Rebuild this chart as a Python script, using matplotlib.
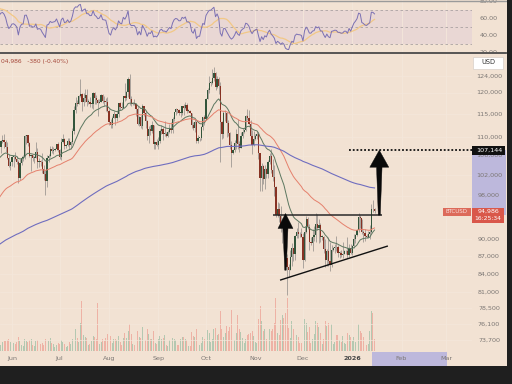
import numpy as np
import pandas as pd
import matplotlib
matplotlib.use("Agg")
import matplotlib.pyplot as plt
from matplotlib.patches import Rectangle, Polygon
from matplotlib.lines import Line2D
from matplotlib.transforms import IdentityTransform

# ---------------- data (BTCUSD daily, prices in thousands USD) ----------------
start_date = "2025-05-01"
first_open_k = 94.2

close_k = [
    # May 2025
    96.5, 96.9, 95.9, 94.3, 94.7, 96.8, 97.0, 103.2, 102.9, 104.6,
    104.1, 102.8, 104.2, 103.5, 103.7, 103.5, 103.2, 106.4, 105.6, 106.8,
    109.7, 111.7, 107.3, 107.8, 109.0, 109.4, 108.9, 107.8, 105.6, 103.9,
    104.6,
    # Jun
    105.7, 105.8, 105.4, 104.7, 101.5, 104.4, 105.6, 105.7, 110.2, 110.3,
    108.7, 105.9, 106.1, 105.5, 105.6, 106.8, 104.6, 104.9, 104.6, 103.3,
    102.2, 100.9, 105.6, 105.9, 107.3, 106.9, 107.1, 107.3, 108.4, 107.1,
    # Jul
    105.7, 108.8, 109.6, 108.0, 108.2, 109.2, 108.3, 108.9, 111.3, 115.9,
    117.5, 117.4, 119.1, 119.8, 117.7, 118.7, 119.4, 117.9, 117.9, 117.3,
    117.4, 120.0, 118.7, 118.3, 117.6, 117.9, 119.4, 118.0, 117.9, 117.8,
    115.8,
    # Aug
    113.3, 112.5, 114.2, 115.0, 114.1, 115.0, 117.5, 116.7, 116.5, 119.3,
    118.7, 120.2, 123.3, 118.4, 117.4, 117.5, 117.4, 116.3, 112.9, 114.3,
    112.4, 116.9, 115.4, 113.5, 110.1, 111.8, 111.3, 112.6, 108.4, 108.8,
    108.2,
    # Sep
    109.2, 111.2, 111.7, 110.7, 110.7, 110.2, 111.1, 112.0, 111.5, 113.9,
    115.5, 116.1, 115.9, 115.3, 115.4, 116.8, 116.5, 117.1, 115.7, 115.7,
    115.3, 112.7, 112.0, 113.3, 109.0, 109.7, 109.7, 112.1, 114.4, 114.0,
    # Oct
    118.6, 120.6, 122.3, 122.4, 123.5, 124.7, 121.4, 123.3, 121.7, 113.2,
    110.6, 115.2, 115.3, 113.0, 110.8, 108.2, 106.5, 107.2, 108.6, 110.6,
    108.5, 107.6, 110.1, 111.0, 111.6, 114.5, 114.1, 112.9, 110.1, 108.3,
    109.6,
    # Nov
    110.1, 110.6, 106.5, 101.5, 103.9, 101.3, 103.3, 102.3, 104.7, 106.0,
    103.1, 101.7, 99.7, 94.4, 95.5, 94.2, 92.2, 92.9, 91.5, 86.6,
    85.1, 84.7, 86.8, 88.3, 87.3, 90.5, 91.3, 90.9, 90.8, 90.4,
    # Dec
    86.3, 91.3, 93.5, 92.1, 89.4, 89.3, 90.4, 90.6, 92.7, 92.0,
    92.5, 90.3, 90.3, 88.2, 86.4, 87.8, 86.1, 85.5, 88.1, 88.3,
    88.6, 88.5, 87.6, 87.6, 87.2, 87.3, 87.8, 87.8, 87.1, 88.4,
    87.5,
    # Jan 2026
    88.7, 89.9, 90.6, 91.5, 93.9, 93.7, 91.3, 91.0, 90.5, 90.4,
    90.8, 91.2, 95.4, 95.37, 94.99,
]

high_k = [
    97.4, 97.9, 96.9, 96.0, 95.2, 97.0, 97.6, 103.9, 104.3, 104.9,
    105.0, 105.8, 104.9, 104.3, 104.2, 104.6, 103.7, 106.6, 107.1, 107.1,
    110.8, 112.0, 111.9, 109.5, 109.3, 110.4, 110.7, 109.3, 108.9, 106.3,
    104.9,
    105.9, 105.9, 106.8, 105.9, 105.0, 105.3, 106.0, 106.1, 110.5, 110.4,
    110.4, 108.8, 106.2, 106.2, 106.0, 108.9, 107.7, 105.6, 105.2, 106.5,
    104.0, 103.1, 106.1, 106.3, 108.0, 108.0, 107.8, 107.6, 108.5, 108.8,
    107.5, 109.8, 110.6, 109.8, 108.5, 109.8, 109.7, 109.2, 111.9, 116.8,
    118.9, 118.2, 119.5, 123.2, 119.9, 120.0, 120.8, 120.9, 118.6, 118.9,
    119.7, 120.2, 120.1, 119.5, 118.4, 118.5, 119.8, 119.8, 119.3, 118.8,
    118.9,
    116.1, 114.0, 114.7, 115.7, 115.1, 115.7, 117.6, 117.7, 117.9, 119.3,
    122.3, 120.3, 123.7, 124.5, 119.2, 117.9, 118.6, 117.6, 116.8, 114.6,
    114.8, 117.4, 117.0, 115.8, 113.6, 112.4, 112.6, 113.5, 112.7, 108.9,
    109.5,
    109.9, 111.8, 112.6, 112.2, 113.4, 111.0, 111.4, 112.8, 113.2, 114.3,
    115.6, 116.5, 116.3, 116.1, 116.8, 116.9, 117.3, 117.9, 117.5, 116.3,
    115.9, 115.4, 113.3, 114.0, 113.5, 110.3, 109.8, 112.4, 114.4, 114.8,
    118.7, 121.0, 123.9, 122.9, 125.6, 126.2, 125.0, 124.1, 123.8, 122.5,
    113.4, 115.8, 116.0, 115.6, 113.6, 111.1, 109.2, 107.5, 109.4, 111.7,
    114.0, 109.1, 111.0, 112.0, 111.8, 114.9, 116.1, 116.0, 113.6, 111.6,
    111.2,
    110.6, 111.2, 110.8, 106.6, 104.5, 104.1, 104.0, 103.4, 105.0, 106.6,
    107.4, 105.3, 104.0, 99.9, 96.8, 96.6, 96.0, 93.8, 93.0, 93.1,
    87.4, 85.6, 88.0, 89.2, 88.3, 90.6, 91.9, 93.0, 91.2, 91.9,
    91.0, 92.3, 94.1, 94.0, 92.7, 90.3, 91.8, 92.3, 94.6, 94.5,
    93.5, 92.8, 90.6, 90.5, 90.0, 88.2, 90.3, 89.4, 88.9, 88.6,
    89.1, 90.5, 88.9, 87.9, 88.0, 89.4, 88.0, 88.1, 90.3, 89.0,
    89.0,
    88.9, 90.9, 90.9, 91.7, 94.7, 94.4, 93.6, 91.5, 91.8, 90.9,
    91.4, 92.4, 96.3, 97.2, 95.6,
]

low_k = [
    94.1, 96.3, 95.7, 94.2, 93.5, 93.4, 95.8, 96.9, 102.3, 102.8,
    103.6, 100.8, 101.5, 102.6, 101.4, 103.1, 102.6, 103.1, 102.1, 105.0,
    106.1, 109.3, 106.8, 106.9, 106.6, 108.7, 107.6, 106.8, 105.4, 103.7,
    103.1,
    103.9, 103.7, 105.0, 104.2, 100.4, 101.1, 104.0, 104.9, 105.3, 108.4,
    108.1, 105.7, 102.8, 104.9, 104.5, 105.5, 103.4, 103.6, 103.9, 102.4,
    101.0, 98.2, 99.6, 104.7, 105.8, 106.6, 106.4, 106.9, 107.2, 106.8,
    105.3, 105.1, 108.6, 107.3, 107.6, 108.1, 107.5, 107.5, 108.4, 110.6,
    115.2, 116.9, 117.3, 118.9, 115.8, 116.9, 117.8, 116.9, 117.3, 116.6,
    116.5, 116.2, 117.4, 117.4, 114.7, 117.5, 117.8, 117.5, 116.9, 115.8,
    115.6,
    112.7, 112.0, 112.0, 114.1, 112.7, 113.4, 114.3, 115.9, 116.3, 116.5,
    118.1, 118.2, 118.9, 117.2, 116.8, 117.1, 117.2, 114.7, 112.7, 112.4,
    111.9, 111.7, 114.6, 112.0, 109.3, 108.7, 110.4, 110.9, 107.5, 107.5,
    108.1,
    107.3, 108.6, 110.6, 109.3, 110.2, 110.0, 110.0, 110.8, 110.8, 110.9,
    113.4, 114.8, 115.2, 114.8, 114.4, 114.8, 114.8, 116.3, 115.2, 115.6,
    115.2, 111.9, 111.6, 111.1, 108.7, 108.7, 109.1, 109.3, 111.6, 112.7,
    113.9, 118.4, 119.9, 121.6, 122.1, 122.9, 120.6, 121.1, 119.7, 104.6,
    109.6, 109.7, 113.5, 109.9, 110.2, 107.5, 103.6, 106.4, 106.7, 107.5,
    107.5, 106.7, 107.6, 109.7, 110.8, 111.3, 113.8, 112.5, 109.8, 106.3,
    108.0,
    109.4, 109.6, 105.3, 98.9, 98.9, 100.3, 99.3, 101.4, 101.4, 104.3,
    102.5, 100.8, 98.0, 94.0, 94.0, 93.0, 91.2, 89.3, 88.6, 86.2,
    80.6, 83.5, 84.7, 85.3, 86.1, 86.3, 90.1, 90.2, 90.3, 90.3,
    85.0, 86.2, 91.1, 91.7, 88.1, 88.9, 87.8, 89.6, 89.5, 91.6,
    89.3, 89.5, 89.8, 87.6, 85.1, 85.3, 85.3, 84.4, 85.1, 87.9,
    87.6, 87.9, 86.8, 86.6, 86.9, 86.6, 87.3, 87.4, 86.7, 86.9,
    87.3,
    87.2, 88.4, 89.3, 90.5, 91.2, 91.9, 90.9, 89.4, 89.6, 90.2,
    90.1, 90.0, 91.0, 94.9, 94.6,
]

volume_k = [
    10, 9, 6, 6, 8, 9, 11, 16, 12, 10, 7, 11, 10, 9, 9, 7, 5, 9, 12, 9,
    15, 17, 14, 8, 6, 9, 10, 10, 11, 12, 9,
    8, 8, 7, 9, 14, 10, 6, 5, 12, 10, 9, 11, 12, 6, 5, 10, 11, 9, 7, 8,
    6, 12, 17, 10, 13, 8, 7, 4, 6, 8,
    7, 11, 9, 7, 4, 5, 9, 7, 12, 20, 22, 13, 9, 28, 50, 16, 14, 13, 6, 7,
    10, 15, 14, 12, 48, 7, 9, 12, 10, 13, 17,
    22, 15, 8, 12, 12, 11, 15, 9, 6, 13, 18, 13, 20, 27, 17, 7, 6, 12, 20, 14,
    13, 24, 10, 11, 22, 17, 12, 12, 20, 8, 7,
    12, 15, 12, 13, 16, 6, 5, 11, 13, 13, 12, 11, 6, 6, 12, 14, 14, 12, 11, 5,
    5, 19, 15, 14, 22, 17, 6, 8, 14, 12,
    20, 21, 18, 9, 12, 22, 23, 16, 17, 40, 22, 14, 18, 25, 20, 24, 41, 10, 11, 18,
    36, 22, 19, 13, 8, 12, 16, 17, 18, 20, 15,
    9, 8, 32, 45, 30, 20, 22, 12, 10, 22, 20, 22, 28, 53, 18, 16, 31, 36, 33, 38,
    53, 23, 13, 30, 22, 23, 16, 14, 8, 8,
    28, 32, 28, 19, 24, 8, 12, 17, 30, 28, 24, 18, 7, 12, 30, 25, 28, 35, 27, 7,
    9, 16, 16, 11, 9, 15, 8, 7, 18, 16, 14,
    10, 14, 9, 8, 27, 20, 18, 14, 14, 6, 7, 20, 40, 38, 12,
]

# moving averages: (span, value in k on first visible day)
first_visible_date = "2025-05-24"
ema_specs = [(20, 105.5), (50, 97.6), (200, 89.0)]

month_dates = ["2025-06-01", "2025-07-01", "2025-08-01", "2025-09-01", "2025-10-01",
               "2025-11-01", "2025-12-01", "2026-01-01", "2026-02-01", "2026-03-01"]
month_labels = ["Jun", "Jul", "Aug", "Sep", "Oct", "Nov", "Dec", "2026", "Feb", "Mar"]

price_ticks = [124000, 120000, 115000, 110000, 106000, 102000, 98000,
               90000, 87000, 84000, 81000, 78500, 76100, 73700]
price_tick_labels = ["124,000", "120,000", "115,000", "110,000", "106,000", "102,000", "98,000",
                     "90,000", "87,000", "84,000", "81,000", "78,500", "76,100", "73,700"]
rsi_ticks = [80, 60, 40, 20]
rsi_tick_labels = ["80.00", "60.00", "40.00", "20.00"]

symbol = "BTCUSD"
last_price = 94986
last_price_label = "94,986"
last_time = "16:25:34"
legend_text = "04,986   -380 (-0.40%)"

resistance_price = 94300
resistance_dates = ("2025-11-12", "2026-01-20")
support_points = [("2025-11-17", 83000), ("2026-01-23", 88700)]
target_price = 107144
target_label = "107,144"
target_start = "2025-12-30"
big_arrow = ("2026-01-18", 94300, 107144)     # date, tail price, tip price
small_arrow = ("2025-11-20", 84600, 94600)
time_highlight = ("2026-01-13 12:00", "2026-03-01 14:00")

# ---------------- processing ----------------
t0 = pd.Timestamp(start_date)
def day_index(d):
    return (pd.Timestamp(d) - t0) / pd.Timedelta(days=1)

close = np.array(close_k) * 1000.0
high = np.array(high_k) * 1000.0
low = np.array(low_k) * 1000.0
vol = np.array(volume_k, dtype=float)
n = len(close)
x = np.arange(n)
opn = np.concatenate([[first_open_k * 1000.0], close[:-1]])
up = close >= opn

start_vis = int(day_index(first_visible_date))
def ema_from(values, span, seed, start):
    a = 2.0 / (span + 1)
    out = np.full(len(values), np.nan)
    out[start] = seed
    for i in range(start + 1, len(values)):
        out[i] = out[i - 1] + a * (values[i] - out[i - 1])
    return out

emas = [ema_from(close, s, v * 1000.0, start_vis) for s, v in ema_specs]

delta = pd.Series(close).diff().fillna(0.0)
avg_gain = delta.clip(lower=0).ewm(alpha=1 / 14, adjust=False).mean()
avg_loss = (-delta).clip(lower=0).ewm(alpha=1 / 14, adjust=False).mean()
rsi = 100 - 100 / (1 + avg_gain / avg_loss)
rsi_ma = rsi.rolling(14).mean()

# ---------------- layout ----------------
W, H = 512, 384
BG = "#f2e2d3"
GRID = "#f4e7db"
DARK = "#1f1f1f"
UP_C, DN_C, WICK_C = "#33553b", "#873223", "#8e8a86"
VUP_C, VDN_C = "#a9c4ab", "#eeaa9d"
TICK_C = "#7c7774"

PX_PER_DAY = 1.59
JUN1_PX = 12
PLOT_R, SCALE_R = 472, 506
RSI_TOP, RSI_BOT = 0, 52
MAIN_TOP, MAIN_BOT = 54, 351
xmin = day_index("2025-06-01") - JUN1_PX / PX_PER_DAY
xmax = xmin + PLOT_R / PX_PER_DAY
# price scale calibration: 124,000 at pixel 76, 508 px per log unit
P_TOP = 124000 * np.exp((76 - MAIN_TOP) / 508)
P_BOT = 124000 * np.exp((76 - MAIN_BOT) / 508)
RSI_LIM = (20.0, 81.2)

fig = plt.figure(figsize=(W / 100, H / 100), dpi=100, facecolor=BG)

def add_ax(x0, y0, x1, y1):
    a = fig.add_axes([x0 / W, 1 - y1 / H, (x1 - x0) / W, (y1 - y0) / H])
    a.set_facecolor("none")
    a.axis("off")
    return a

def fig_rect(x0, y0, x1, y1, **kw):
    fig.add_artist(Rectangle((x0 / W, 1 - y1 / H), (x1 - x0) / W, (y1 - y0) / H,
                             transform=fig.transFigure, **kw))

def fig_text(xp, yp, s, **kw):
    fig.text(xp / W, 1 - yp / H, s, **kw)

def fig_hline(x0, x1, yp, **kw):
    fig.add_artist(Line2D([x0 / W, x1 / W], [1 - yp / H] * 2, transform=fig.transFigure, **kw))

# ---- RSI pane ----
ax_r = add_ax(0, RSI_TOP, PLOT_R, RSI_BOT)
ax_r.set_xlim(xmin, xmax)
ax_r.set_ylim(*RSI_LIM)
ax_r.axhspan(30, 70, color="#e9d7d4", lw=0, zorder=0)
for md in month_dates:
    ax_r.axvline(day_index(md), color=GRID, lw=0.6, zorder=0.5)
for lvl in (70, 50, 30):
    ax_r.axhline(lvl, color="#aaa2a2", lw=0.6, ls=(0, (3, 3)), zorder=1)
ax_r.plot(x, rsi_ma, color="#f2c886", lw=0.9, zorder=2)
ax_r.plot(x, rsi, color="#7b70b3", lw=0.7, zorder=3)

ax_rs = add_ax(PLOT_R, RSI_TOP, SCALE_R, RSI_BOT)
ax_rs.set_xlim(0, 1)
ax_rs.set_ylim(*RSI_LIM)
for v, lab in zip(rsi_ticks, rsi_tick_labels):
    ax_rs.text(0.5, v, lab, ha="center", va="center", fontsize=4.6, color=TICK_C, clip_on=True)

# ---- volume + main pane ----
ax_v = add_ax(0, MAIN_TOP, PLOT_R, MAIN_BOT)
ax_v.set_xlim(xmin, xmax)
ax_v.set_ylim(0, MAIN_BOT - MAIN_TOP)
for md in month_dates:
    ax_v.axvline(day_index(md), color=GRID, lw=0.6, zorder=0)
ax_v.bar(x, vol, width=0.58, color=np.where(up, VUP_C, VDN_C), lw=0, alpha=0.85, zorder=1)

ax = add_ax(0, MAIN_TOP, PLOT_R, MAIN_BOT)
ax.set_yscale("log")
ax.set_xlim(xmin, xmax)
ax.set_ylim(P_BOT, P_TOP)
for p in price_ticks:
    ax.axhline(p, color=GRID, lw=0.5, zorder=0)

body_lo = np.minimum(opn, close)
body_h = np.maximum(np.abs(close - opn), close * 0.0015)
ax.vlines(x, low, high, color=WICK_C, lw=0.5, zorder=3)
ax.bar(x, body_h, bottom=body_lo, width=0.8, color=np.where(up, UP_C, DN_C), lw=0, zorder=4)

ema_colors = ["#5c7760", "#e5806c", "#6f6dbf"]
ema_widths = [0.7, 0.7, 0.8]
for e, c, w in zip(emas, ema_colors, ema_widths):
    ax.plot(x, e, color=c, lw=w, zorder=5)

# drawings
ax.plot([day_index(resistance_dates[0]), day_index(resistance_dates[1])],
        [resistance_price] * 2, color="#2a2a2a", lw=1.1, zorder=6, solid_capstyle="butt")
ax.plot([day_index(support_points[0][0]), day_index(support_points[1][0])],
        [support_points[0][1], support_points[1][1]], color="#111111", lw=1.0, zorder=6)
ax.plot([day_index(target_start), xmax], [target_price] * 2, color="#111111", lw=1.3,
        ls=(0, (1, 1.1)), zorder=6)

def arrow(spec, head_len, head_w, shaft_top, shaft_bot):
    d, p_tail, p_tip = spec
    xi = day_index(d)
    tx, ty = ax.transData.transform((xi, p_tip))
    _, by = ax.transData.transform((xi, p_tail))
    hb = ty - head_len
    pts = [(tx, ty), (tx + head_w / 2, hb), (tx + shaft_top / 2, hb), (tx + shaft_bot / 2, by),
           (tx - shaft_bot / 2, by), (tx - shaft_top / 2, hb), (tx - head_w / 2, hb)]
    ax.add_patch(Polygon(pts, closed=True, transform=IdentityTransform(),
                         fc="#0a0a0a", ec="#0a0a0a", lw=0.3, zorder=7))

arrow(big_arrow, 17, 19, 5.5, 2.0)
arrow(small_arrow, 15, 15, 5.0, 1.5)

# ---- price scale ----
ax_ps = add_ax(PLOT_R, MAIN_TOP, SCALE_R, MAIN_BOT)
ax_ps.set_yscale("log")
ax_ps.set_xlim(0, 1)
ax_ps.set_ylim(P_BOT, P_TOP)
ax_ps.axhspan(resistance_price, target_price, color="#bdb8dc", lw=0, zorder=0)
for p, lab in zip(price_ticks, price_tick_labels):
    ax_ps.text(0.5, p, lab, ha="center", va="center", fontsize=4.6, color=TICK_C,
               clip_on=True, zorder=1)

def py_of(price):
    return H - ax.transData.transform((xmin, price))[1]

def px_of(idx):
    return ax.transData.transform((idx, 100000))[0]

# target label (black)
ty_ = py_of(target_price)
fig_rect(PLOT_R, ty_ - 4.3, SCALE_R - 1, ty_ + 4.3, fc="#111111", ec="none", zorder=4)
fig_text((PLOT_R + SCALE_R) / 2, ty_ + 0.3, target_label, ha="center", va="center",
         fontsize=4.6, color="white", zorder=5)

# last price label (red)
ly = py_of(last_price)
fig_rect(443, ly - 3.5, 471, ly + 4.5, fc="#dc6a5a", ec="none", zorder=4)
fig_text(457, ly + 0.5, symbol, ha="center", va="center", fontsize=4.0, color="#fbe3df", zorder=5)
fig_rect(472, ly - 3.5, 504, ly + 11.5, fc="#d9574a", ec="none", zorder=4)
fig_text(488, ly + 0.3, last_price_label, ha="center", va="center", fontsize=4.5,
         color="white", zorder=5)
fig_text(488, ly + 7.3, last_time, ha="center", va="center", fontsize=4.3,
         color="white", zorder=5)

# USD box
fig_rect(473, 56.5, 503, 68.5, fc="white", ec="#d8d0c8", lw=0.5, zorder=4)
fig_text(488, 62.5, "USD", ha="center", va="center", fontsize=4.8, color="#333333", zorder=5)

# legend text
fig_text(1, 61, legend_text, ha="left", va="center", fontsize=4.3, color="#a5473a", zorder=5)

# ---- time axis ----
hx0, hx1 = px_of(day_index(time_highlight[0])), px_of(day_index(time_highlight[1]))
fig_rect(hx0, 351.5, hx1, 366, fc="#bdb8dc", ec="none", zorder=1)
for md, lab in zip(month_dates, month_labels):
    bold = lab.isdigit()
    fig_text(px_of(day_index(md)), 358.5, lab, ha="center", va="center",
             fontsize=4.6, color="#444444" if bold else TICK_C,
             fontweight="bold" if bold else "normal", zorder=3)

# ---- frame ----
fig_hline(0, SCALE_R, 53, color="#4a4a4a", lw=1.3, zorder=3)
fig_hline(0, SCALE_R, 0.5, color="#9a9a9a", lw=1.0, zorder=3)
fig_rect(0, 366, W, H, fc=DARK, ec="none", zorder=6)
fig_rect(SCALE_R + 1, 0, W, H, fc=DARK, ec="none", zorder=6)

fig.savefig("out.png", dpi=100, facecolor=BG)
